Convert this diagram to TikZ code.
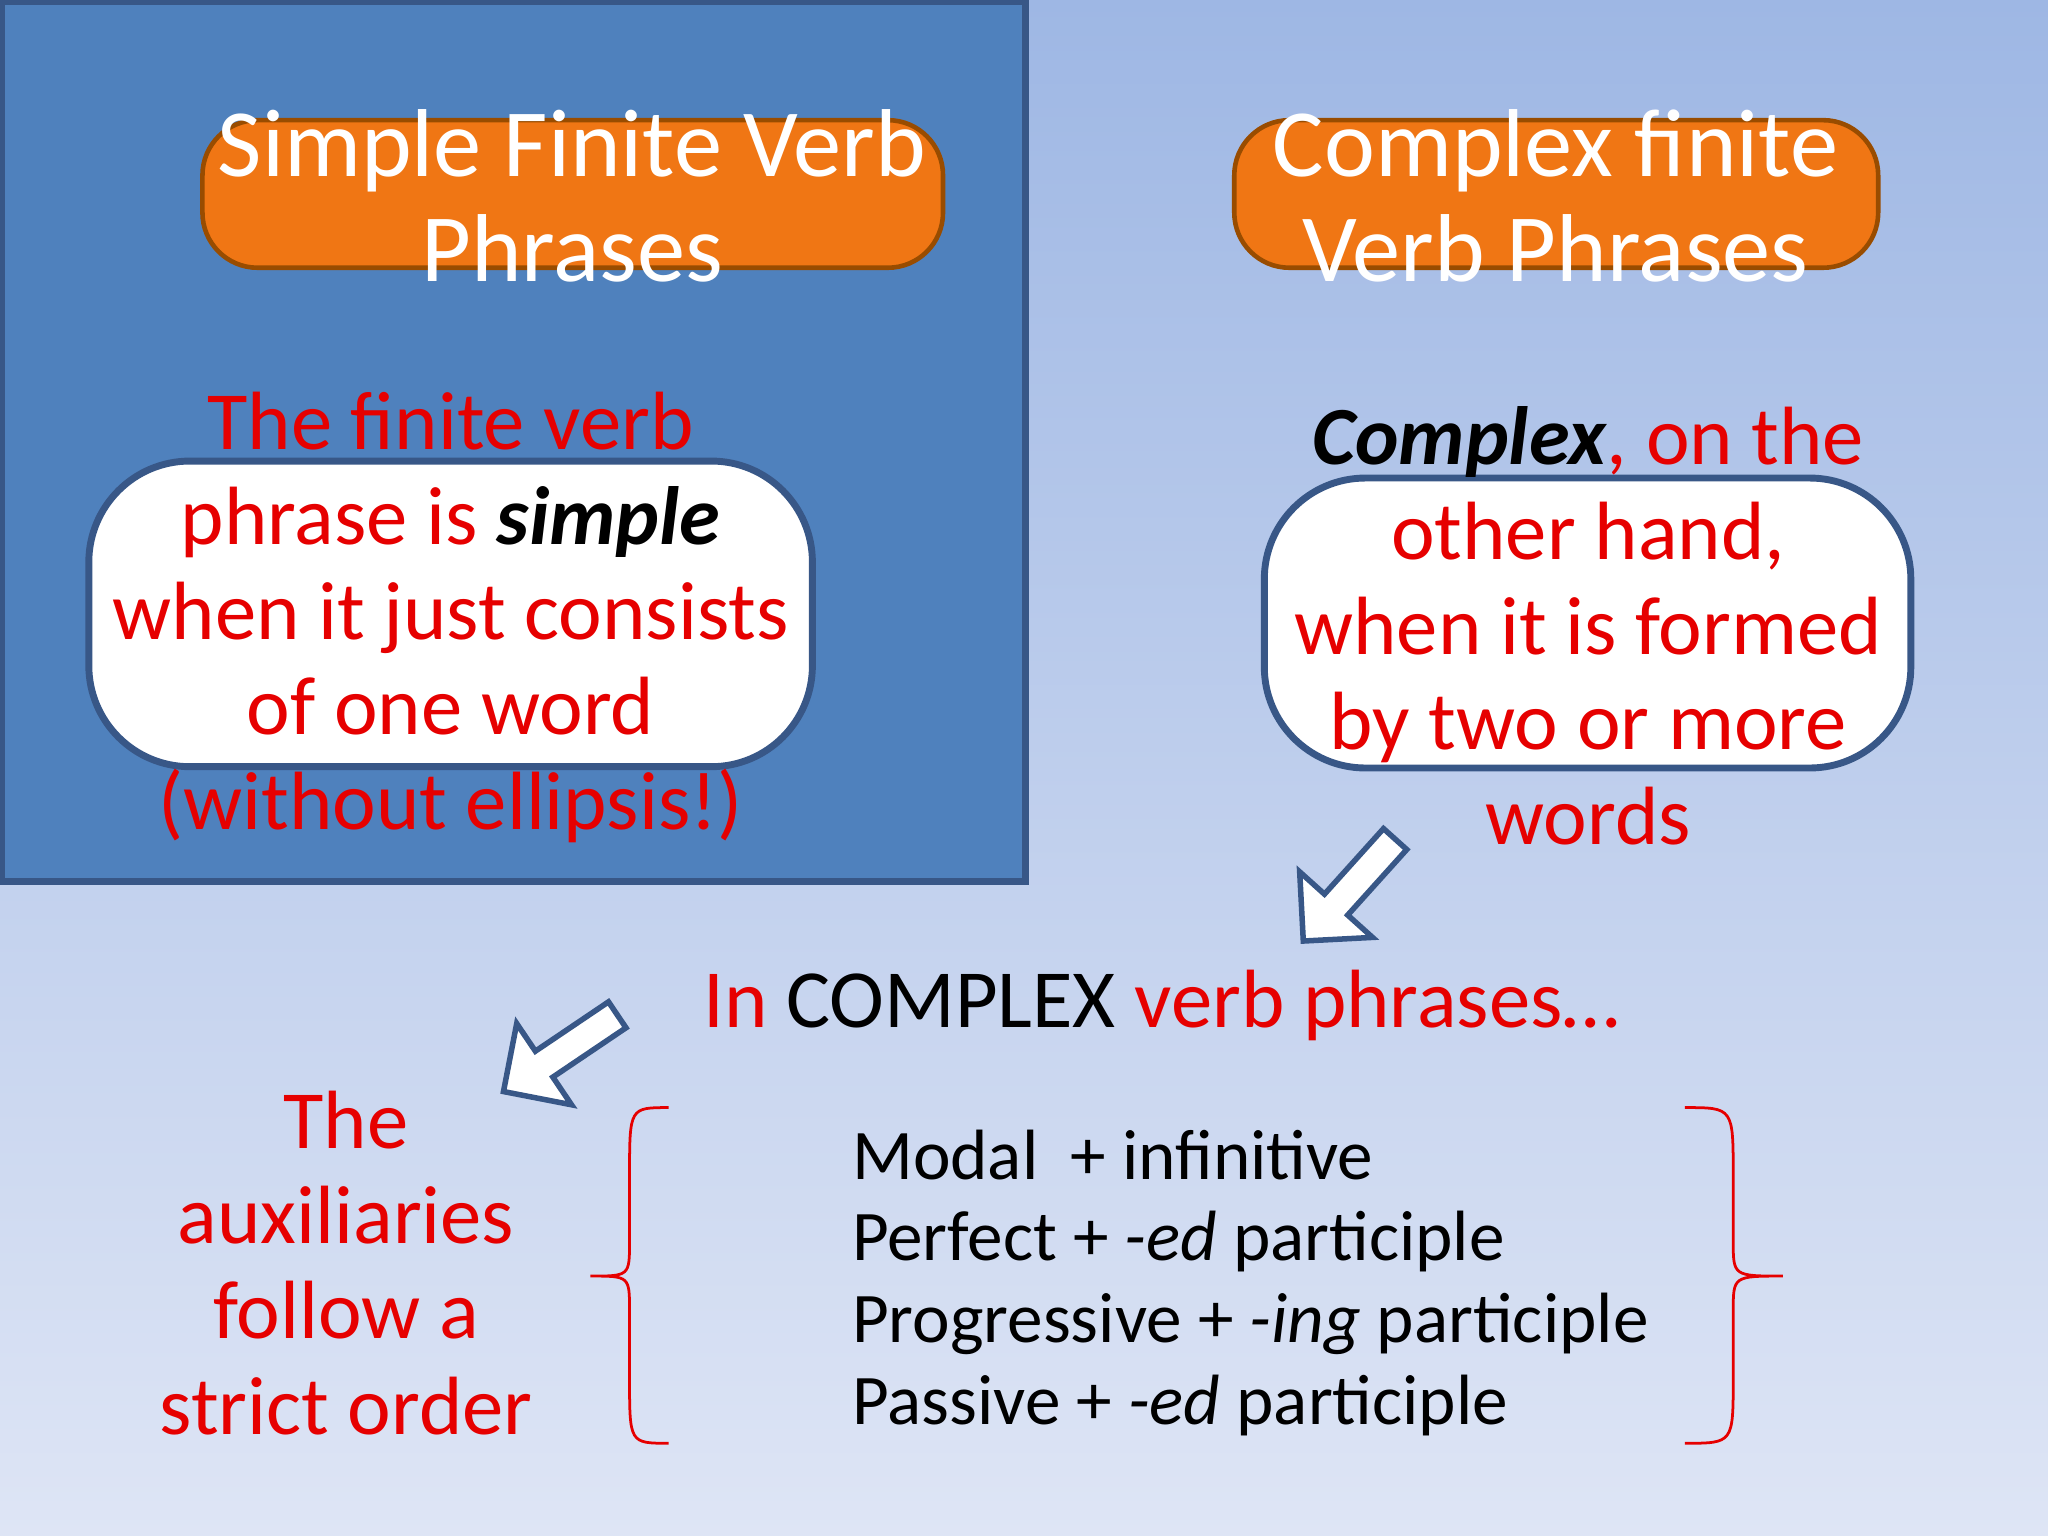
\documentclass[tikz,border=0pt]{standalone}
\usepackage{fontspec}
\setmainfont{Carlito}
\usetikzlibrary{shapes.arrows,decorations.pathreplacing}
\definecolor{slideblue}{RGB}{79,129,189}
\definecolor{edgeblue}{RGB}{56,87,135}
\definecolor{titleorange}{RGB}{240,118,20}
\definecolor{txtred}{RGB}{230,0,0}
\tikzset{
  titlebox/.style={draw=orange!60!black, fill=titleorange, rounded corners=12pt, line width=1pt},
  textbox/.style={draw=edgeblue, fill=white, rounded corners=22pt, line width=1.5pt},
  titletext/.style={text=white, font=\fontsize{21}{23}\selectfont, align=center},
  redtext/.style={text=txtred, font=\fontsize{18}{20.7}\selectfont, align=center},
  listtext/.style={text=black, font=\fontsize{15.5}{17.8}\selectfont, anchor=base west},
  hollowarrow/.style={single arrow, draw=edgeblue, fill=white, line width=1.2pt,
    minimum height=1.05cm, minimum width=0.75cm, single arrow head extend=0.12cm, inner sep=1pt},
  bracket/.style={draw=txtred, line width=0.6pt}
}
\begin{document}
\begin{tikzpicture}[x=0.01cm,y=-0.01cm]
\useasboundingbox (0,0) rectangle (1568,1176);
\shade[top color={rgb,255:red,158;green,183;blue,228}, bottom color={rgb,255:red,222;green,229;blue,245}]
  (0,0) rectangle (1568,1176);
% left panel
\fill[slideblue] (0,0) rectangle (785,675);
\draw[edgeblue, line width=1.5pt] (1,1) rectangle (785,675);
% titles
\draw[titlebox] (155,92) rectangle (722,205);
\draw[titlebox] (945,92) rectangle (1438,205);
\node[titletext] (simpletitle) at (438,150) {Simple Finite Verb\\Phrases};
\node[titletext] (complextitle) at (1191,150) {Complex finite\\Verb Phrases};
% definition boxes
\draw[textbox] (68,353) rectangle (622,587);
\draw[textbox] (968,366) rectangle (1463,588);
\node[redtext] (simpledef) at (345,473) {The finite verb\\phrase is \textcolor{black}{\textbf{\textit{simple}}}\\when it just consists\\of one word\\(without ellipsis!)};
\node[redtext] (complexdef) at (1216,479) {\textcolor{black}{\textbf{\textit{Complex}}}, on the\\other hand,\\when it is formed\\by two or more\\words};
% arrows
\node[hollowarrow, rotate=-132] (arrowone) at (1037,677) {};
\node[redtext, anchor=west] (inline) at (526,770) {In \textcolor{black}{COMPLEX} verb phrases…};
\node[hollowarrow, rotate=-146] (arrowtwo) at (434,803) {};
% order
\node[redtext] (ordertext) at (265,967) {The\\auxiliaries\\follow a\\strict order};
\draw[bracket] (512,848) .. controls (482,848) .. (482,900) -- (482,950)
  .. controls (482,977) .. (452,977) .. controls (482,977) .. (482,1004) -- (482,1055)
  .. controls (482,1105) .. (512,1105);
\draw[bracket] (1290,848) .. controls (1327,848) .. (1327,900) -- (1327,950)
  .. controls (1327,977) .. (1365,977) .. controls (1327,977) .. (1327,1004) -- (1327,1055)
  .. controls (1327,1105) .. (1290,1105);
\node[listtext] (modal) at (640,903) {Modal\ \ + infinitive};
\node[listtext] (perfect) at (640,965) {Perfect + \textit{-ed} participle};
\node[listtext] (progressive) at (640,1028) {Progressive + \textit{-ing} participle};
\node[listtext] (passive) at (640,1091) {Passive + \textit{-ed} participle};
\end{tikzpicture}
\end{document}
